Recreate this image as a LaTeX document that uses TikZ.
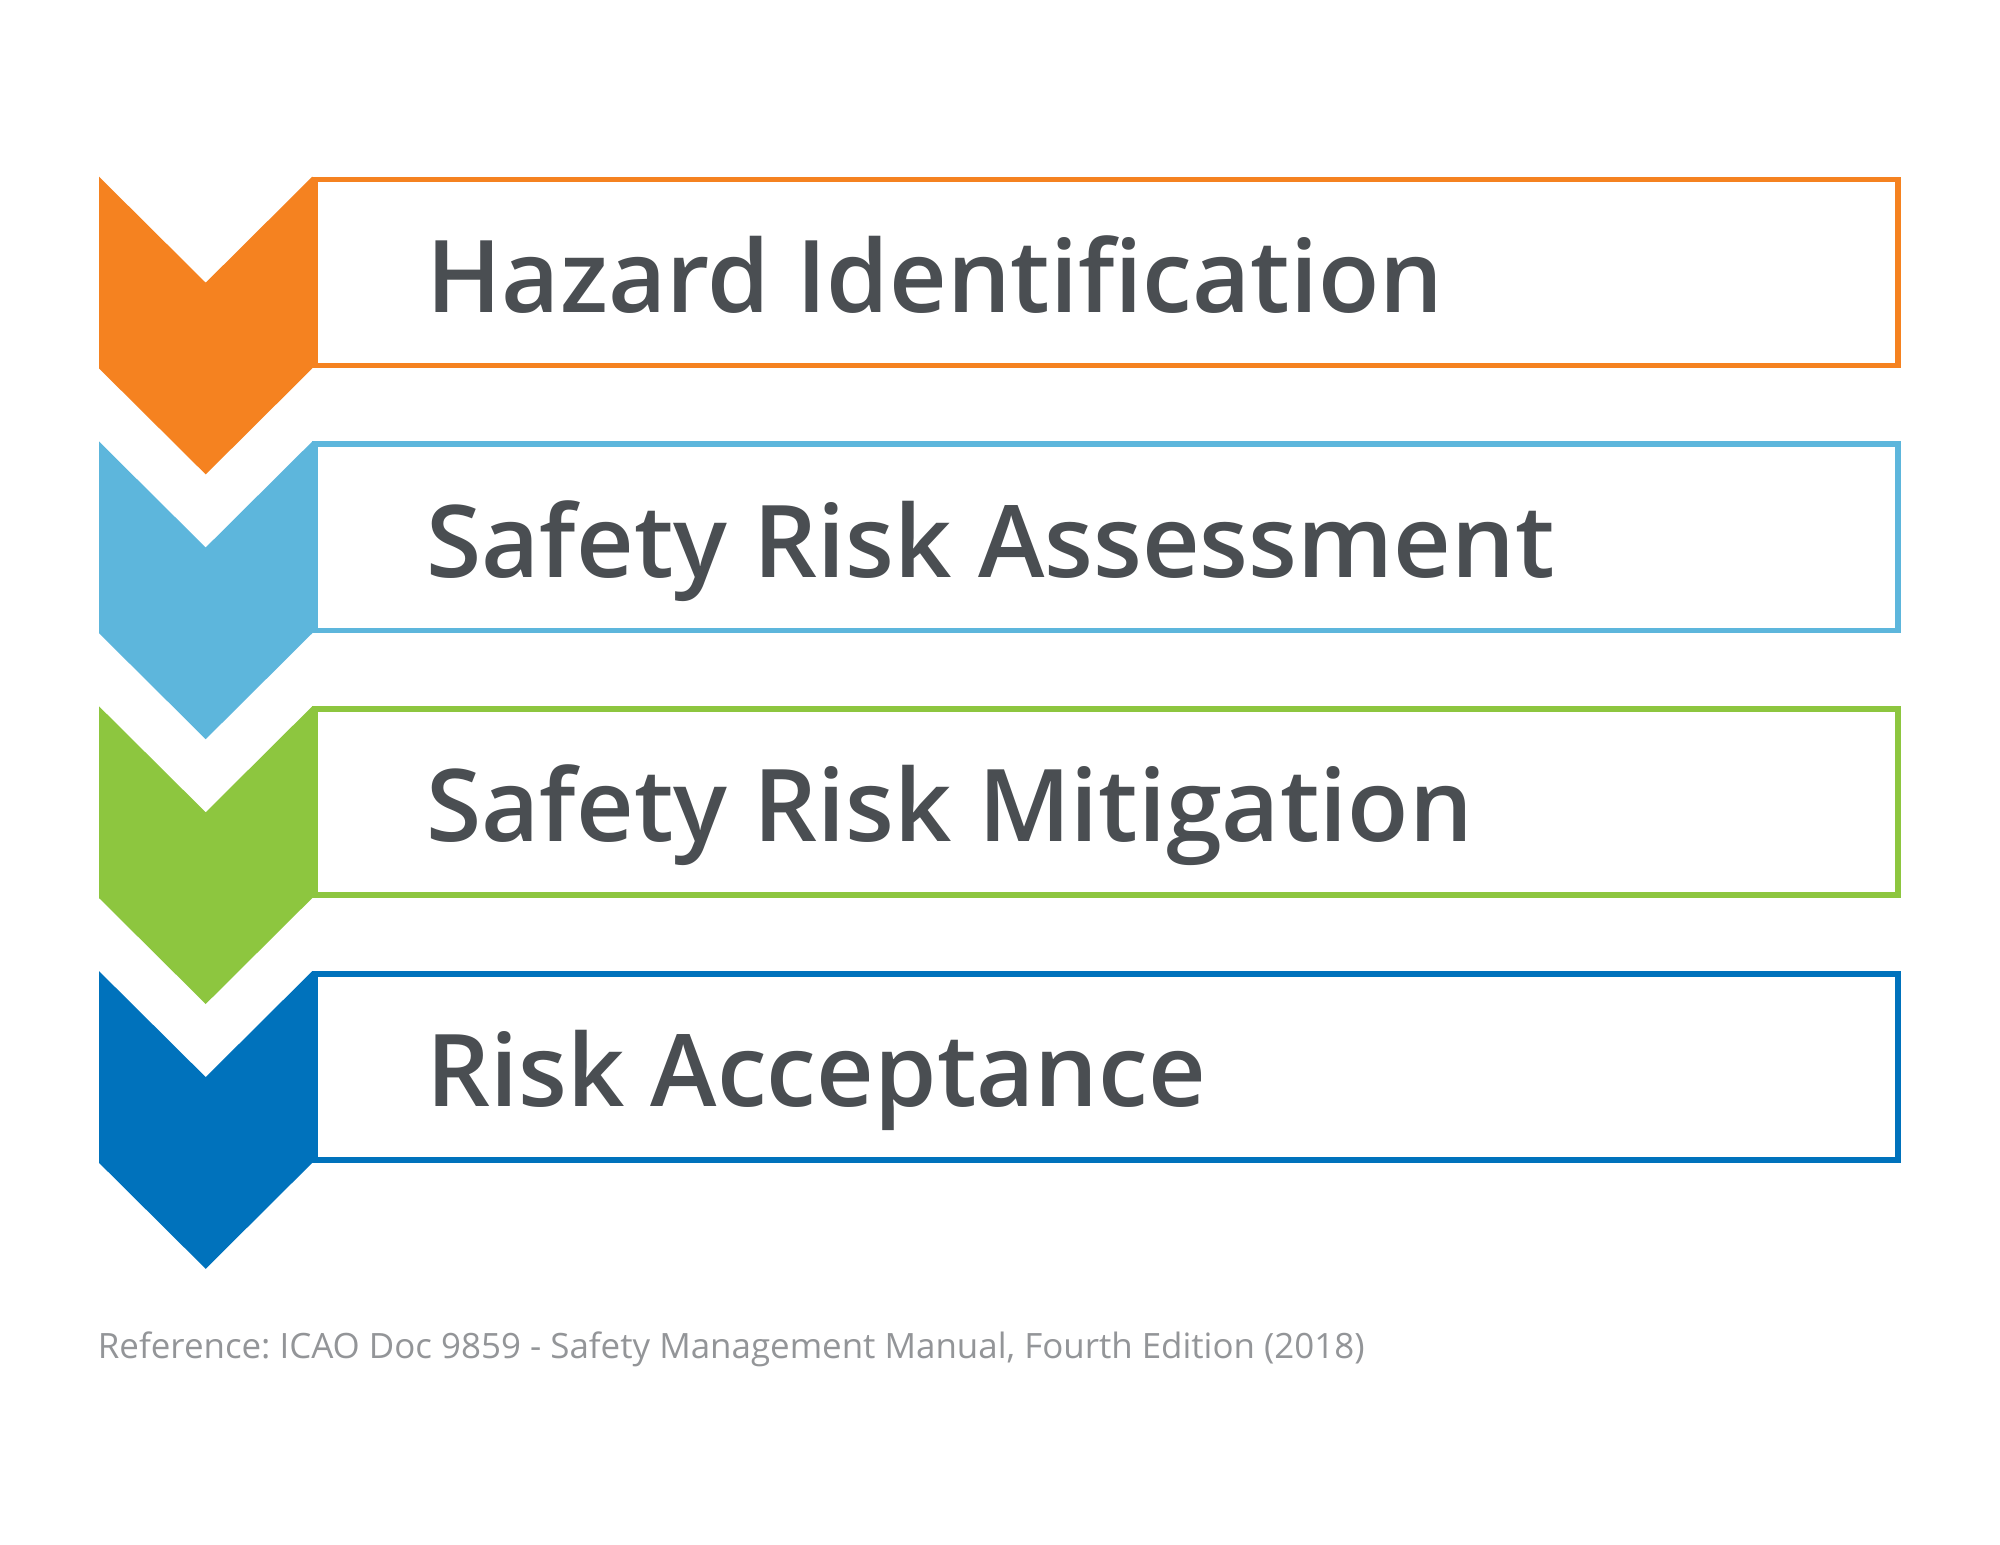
\documentclass[tikz,border=0pt]{standalone}
\usepackage{fontspec}
\setmainfont{Open Sans}
\newfontfamily\semifont{Open Sans Semibold}
\definecolor{cOrange}{HTML}{F58220}
\definecolor{cSky}{HTML}{5DB6DC}
\definecolor{cGreen}{HTML}{8DC63F}
\definecolor{cBlue}{HTML}{0072BC}
\definecolor{cText}{HTML}{4A4E52}
\definecolor{cRef}{HTML}{939598}
\tikzset{
  stepbox/.style={line width=2.85pt, fill=white},
  steptext/.style={anchor=base west, inner sep=0pt, text=cText, font=\semifont\fontsize{50.2pt}{60pt}\selectfont},
  reftext/.style={anchor=base west, inner sep=0pt, text=cRef, font=\frenchspacing\fontsize{17.45pt}{22pt}\selectfont}
}
\newcommand{\chevstep}[4]{% #1 top y, #2 color, #3 name, #4 text
  \fill[#2] (99,#1) -- (205.7,#1+106) -- (312.3,#1) -- (312.3,#1+191.7) -- (205.7,#1+297.7) -- (99,#1+191.7) -- cycle;
  \draw[stepbox, draw=#2] (314.9,#1+2.85) rectangle (1898.1,#1+188.85);
  \node[steptext] (#3) at (426,#1+135.6) {#4};
}
\begin{document}
\begin{tikzpicture}[x=0.5pt,y=-0.5pt]
\useasboundingbox (0,0) rectangle (2000,1545);
\fill[white] (0,0) rectangle (2000,1545);
\chevstep{176.7}{cOrange}{s1}{Hazard Identification}
\chevstep{441.5}{cSky}{s2}{Safety Risk Assessment}
\chevstep{706.3}{cGreen}{s3}{Safety Risk Mitigation}
\chevstep{971.1}{cBlue}{s4}{Risk Acceptance}
\node[reftext] (ref) at (97.5,1358) {Reference: ICAO Doc 9859 - Safety Management Manual, Fourth Edition (2018)};
\end{tikzpicture}
\end{document}
